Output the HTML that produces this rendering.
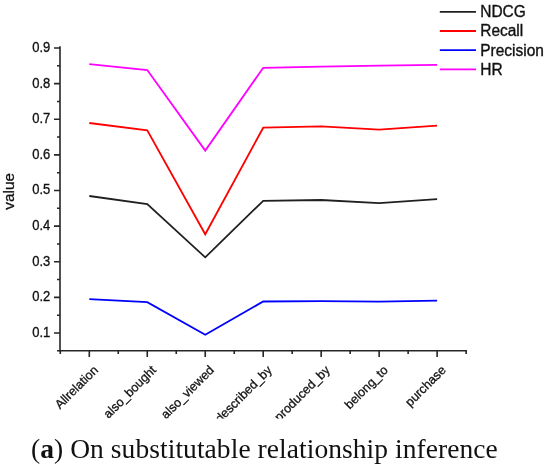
<!DOCTYPE html>
<html><head><meta charset="utf-8"><style>
html,body{margin:0;padding:0;background:#fff;}
body{width:550px;height:470px;overflow:hidden;position:relative;}
svg{position:absolute;left:0;top:0;filter:blur(0.3px);}
.cap{filter:blur(0.3px);}
.yl{font-family:"Liberation Sans",Arial,sans-serif;font-size:13px;text-anchor:end;fill:#111;stroke:#111;stroke-width:0.3px;}
.lg{font-family:"Liberation Sans",Arial,sans-serif;font-size:15.5px;fill:#111;stroke:#111;stroke-width:0.35px;}
.vl{font-family:"Liberation Sans",Arial,sans-serif;font-size:15.4px;text-anchor:middle;fill:#111;stroke:#111;stroke-width:0.3px;}
.xl{font-family:"Liberation Sans",Arial,sans-serif;font-size:12.5px;text-anchor:end;fill:#111;stroke:#111;stroke-width:0.3px;}
.cap{position:absolute;left:31px;top:434.5px;font-family:"Liberation Serif","Times New Roman",serif;font-size:27.5px;color:#111;letter-spacing:0.06px;white-space:nowrap;line-height:1;}
.cap b{font-weight:bold;}
</style></head><body>
<svg width="550" height="470" viewBox="0 0 550 470">
<path d="M60,47.10 V350.80 H466.2" fill="none" stroke="#262626" stroke-width="1.6" stroke-linecap="square"/>
<path d="M54,332.99H60 M54,297.36H60 M54,261.74H60 M54,226.12H60 M54,190.49H60 M54,154.87H60 M54,119.25H60 M54,83.62H60 M54,48.00H60 M57,350.80H60 M57,315.18H60 M57,279.55H60 M57,243.93H60 M57,208.31H60 M57,172.68H60 M57,137.06H60 M57,101.44H60 M57,65.81H60 M89.30,350.80V357 M147.27,350.80V357 M205.24,350.80V357 M263.21,350.80V357 M321.18,350.80V357 M379.15,350.80V357 M437.12,350.80V357 M60.31,350.80V354 M118.28,350.80V354 M176.25,350.80V354 M234.23,350.80V354 M292.19,350.80V354 M350.17,350.80V354 M408.13,350.80V354 M466.11,350.80V354" fill="none" stroke="#262626" stroke-width="1.6"/>
<text transform="translate(50.3,336.99) scale(1,1.09)" class="yl">0.1</text>
<text transform="translate(50.3,301.36) scale(1,1.09)" class="yl">0.2</text>
<text transform="translate(50.3,265.74) scale(1,1.09)" class="yl">0.3</text>
<text transform="translate(50.3,230.12) scale(1,1.09)" class="yl">0.4</text>
<text transform="translate(50.3,194.49) scale(1,1.09)" class="yl">0.5</text>
<text transform="translate(50.3,158.87) scale(1,1.09)" class="yl">0.6</text>
<text transform="translate(50.3,123.25) scale(1,1.09)" class="yl">0.7</text>
<text transform="translate(50.3,87.62) scale(1,1.09)" class="yl">0.8</text>
<text transform="translate(50.3,52.00) scale(1,1.09)" class="yl">0.9</text>
<polyline points="89.30,196.00 147.27,204.10 205.24,257.30 263.21,200.80 321.18,200.00 379.15,203.20 437.12,199.20" fill="none" stroke="#202020" stroke-width="1.8" stroke-linejoin="miter"/>
<polyline points="89.30,123.00 147.27,130.30 205.24,234.30 263.21,127.70 321.18,126.40 379.15,129.60 437.12,125.60" fill="none" stroke="#ff0000" stroke-width="1.8" stroke-linejoin="miter"/>
<polyline points="89.30,299.20 147.27,302.10 205.24,334.70 263.21,301.50 321.18,301.10 379.15,301.70 437.12,300.70" fill="none" stroke="#0000ff" stroke-width="1.8" stroke-linejoin="miter"/>
<polyline points="89.30,64.10 147.27,70.00 205.24,150.60 263.21,67.80 321.18,66.70 379.15,65.60 437.12,64.90" fill="none" stroke="#ff00ff" stroke-width="1.8" stroke-linejoin="miter"/>
<line x1="439.8" x2="476" y1="11.8" y2="11.8" stroke="#202020" stroke-width="1.8"/>
<text transform="translate(480.2,16.90) scale(1,1.035)" class="lg">NDCG</text>
<line x1="439.8" x2="476" y1="31.0" y2="31.0" stroke="#ff0000" stroke-width="1.8"/>
<text transform="translate(480.2,36.30) scale(1,1.035)" class="lg">Recall</text>
<line x1="439.8" x2="476" y1="50.2" y2="50.2" stroke="#0000ff" stroke-width="1.8"/>
<text transform="translate(480.2,55.50) scale(1,1.035)" class="lg">Precision</text>
<line x1="439.8" x2="476" y1="69.3" y2="69.3" stroke="#ff00ff" stroke-width="1.8"/>
<text transform="translate(480.2,74.70) scale(1,1.035)" class="lg">HR</text>
<text class="vl" transform="translate(14.3,191.4) rotate(-90)" x="0" y="0">value</text>
<defs><clipPath id="xc"><rect x="0" y="352" width="550" height="66.6"/></clipPath></defs><g clip-path="url(#xc)">
<text class="xl" transform="translate(98.80,370.8) rotate(-45)">Allrelation</text>
<text class="xl" transform="translate(156.77,370.8) rotate(-45)">also_bought</text>
<text class="xl" transform="translate(214.74,370.8) rotate(-45)">also_viewed</text>
<text class="xl" transform="translate(272.71,370.8) rotate(-45)">described_by</text>
<text class="xl" transform="translate(330.68,370.8) rotate(-45)">produced_by</text>
<text class="xl" transform="translate(388.65,370.8) rotate(-45)">belong_to</text>
<text class="xl" transform="translate(446.62,370.8) rotate(-45)">purchase</text>
</g>
</svg>
<div class="cap">(<b>a</b>) On substitutable relationship inference</div>
</body></html>
